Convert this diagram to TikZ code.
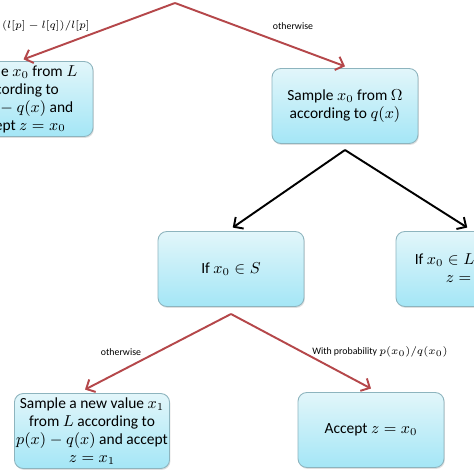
\documentclass[tikz,border=0pt]{standalone}
\usepackage{fontspec}
\setmainfont{Carlito}
\usetikzlibrary{arrows.meta,shadows}
\definecolor{arrred}{HTML}{B5474A}
\definecolor{boxtop}{HTML}{E2F6FA}
\definecolor{boxbot}{HTML}{A4E6F6}
\definecolor{boxline}{HTML}{8DB4BE}
\tikzset{
  sampbox/.style={draw=boxline,line width=0.5pt,rounded corners=5pt,
    top color=boxtop,bottom color=boxbot,minimum width=2.92cm,
    minimum height=1.50cm,align=center,inner sep=1pt,
    font=\fontsize{8.8}{10.2}\selectfont,
    drop shadow={opacity=0.25,shadow xshift=0.5pt,shadow yshift=-0.8pt}},
  redarr/.style={draw=arrred,line width=1.1pt,-{Straight Barb[length=4pt,width=8pt]}},
  blkarr/.style={draw=black,line width=1.1pt,-{Straight Barb[length=4pt,width=8pt]}},
  lbl/.style={font=\fontsize{5.6}{6.5}\selectfont,inner sep=0pt}
}
\begin{document}
\begin{tikzpicture}[x=0.02cm,y=-0.02cm]
   \useasboundingbox (0,0) rectangle (474,474);
   \clip (0,0) rectangle (474,474);
   \fill[white] (0,0) rectangle (474,474);
   % boxes
   \node[sampbox] (tl) at (20,99)  {Sample $x_0$ from $L$\\according to\\$p(x)-q(x)$ and\\accept $z=x_0$};
   \node[sampbox] (tr) at (345,106) {Sample $x_0$ from $\Omega$\\according to $q(x)$};
   \node[sampbox] (ml) at (231,269) {If $x_0\in S$};
   \node[sampbox] (mr) at (469,269) {If $x_0\in L$, accept\\$z=x_0$};
   \node[sampbox] (bl) at (92,431)  {Sample a new value $x_1$\\from $L$ according to\\$p(x)-q(x)$ and accept\\$z=x_1$};
   \node[sampbox] (br) at (371,430) {Accept $z=x_0$};
   % branch points
   \coordinate (top) at (175,3);
   \coordinate (mid) at (345,150);
   \coordinate (low) at (231,314);
   \draw[redarr] (top) -- ([xshift=2pt,yshift=1pt]tl.north);
   \draw[redarr] (top) -- ([yshift=1pt]tr.north);
   \draw[blkarr] (mid) -- ([xshift=1pt,yshift=2pt]ml.north);
   \draw[blkarr] (mid) -- ([xshift=-1pt,yshift=2pt]mr.north);
   \draw[redarr] (low) -- ([xshift=-0.14cm,yshift=2pt]bl.north);
   \draw[redarr] (low) -- ([yshift=2pt]br.north);
   % labels
   \node[lbl,anchor=east] (l1) at (90,26) {With probability $(l[p]-l[q])/l[p]$};
   \node[lbl] (l2) at (293,26) {otherwise};
   \node[lbl] (l3) at (121,352) {otherwise};
   \node[lbl] (l4) at (380,352) {With probability $p(x_0)/q(x_0)$};
\end{tikzpicture}
\end{document}
